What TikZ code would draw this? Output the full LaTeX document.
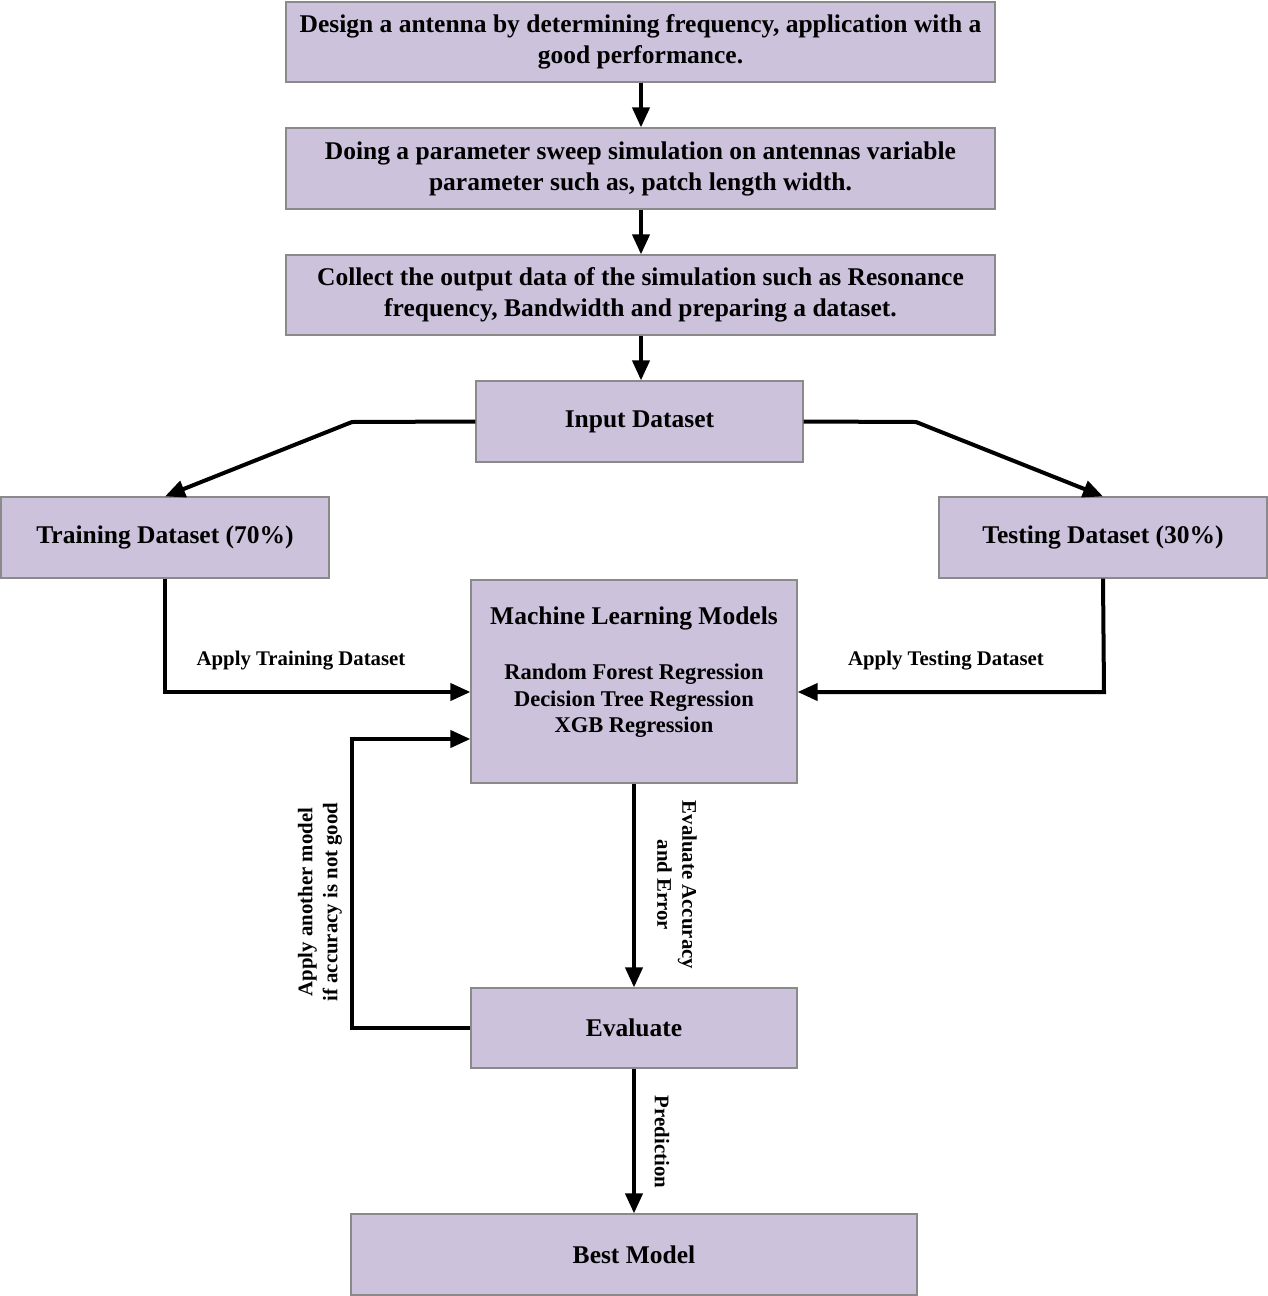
\documentclass[tikz,border=0pt]{standalone}
\usepackage{fontspec}
\setmainfont{Liberation Serif}
\usetikzlibrary{arrows.meta}
\definecolor{boxfill}{HTML}{CCC2DC}
\definecolor{boxdraw}{HTML}{8A8A8A}
\tikzset{
  box/.style={draw=boxdraw, line width=1.2pt, fill=boxfill, inner sep=0pt, font=\bfseries\fontsize{25.5}{31}\selectfont, align=center},
  conn/.style={line width=4pt, -{Triangle[length=20pt,width=17pt]}},
  lbl/.style={font=\bfseries\fontsize{20.8}{25}\selectfont, align=center, inner sep=0pt},
  mltitle/.style={font=\bfseries\fontsize{25.5}{31}\selectfont, inner sep=0pt},
  mlitem/.style={font=\bfseries\fontsize{22.5}{27}\selectfont, inner sep=0pt}
}
\begin{document}
\begin{tikzpicture}[x=1pt,y=-1pt]
\useasboundingbox (0,0) rectangle (1268,1296);
\node[box, minimum width=709pt, minimum height=80pt] (b1) at (640.5,42) {Design a antenna by determining frequency, application with a\\good performance.};
\node[box, minimum width=709pt, minimum height=81pt] (b2) at (640.5,168.5) {Doing a parameter sweep simulation on antennas variable\\parameter such as, patch length width.};
\node[box, minimum width=709pt, minimum height=80pt] (b3) at (640.5,295) {Collect the output data of the simulation such as Resonance\\frequency, Bandwidth and preparing a dataset.};
\node[box, minimum width=327pt, minimum height=81pt] (inp) at (639.5,421.5) {Input Dataset};
\node[box, minimum width=328pt, minimum height=81pt] (train) at (165,537.5) {Training Dataset (70\%)};
\node[box, minimum width=328pt, minimum height=81pt] (test) at (1103,537.5) {Testing Dataset (30\%)};
\node[box, minimum width=326pt, minimum height=203pt] (ml) at (634,681.5) {};
\node[mltitle] (mlt) at (634,618) {Machine Learning Models};
\node[mlitem] (m1) at (634,674) {Random Forest Regression};
\node[mlitem] (m2) at (634,701) {Decision Tree Regression};
\node[mlitem] (m3) at (634,727) {XGB Regression};
\node[box, minimum width=326pt, minimum height=80pt] (ev) at (634,1028) {Evaluate};
\node[box, minimum width=566pt, minimum height=81pt] (best) at (634,1254.5) {Best Model};

\draw[conn] (b1.south -| 641,0) -- (b2.north -| 641,0);
\draw[conn] (b2.south -| 641,0) -- (b3.north -| 641,0);
\draw[conn] (b3.south -| 641,0) -- (inp.north -| 641,0);
\coordinate (lk) at (352,422);
\coordinate (rk) at (916,422);
\draw[conn] (inp.west) -- (lk) -- (train.north);
\draw[conn] (inp.east) -- (rk) -- (test.north);
\coordinate (tr) at (165,692);
\coordinate (te) at (1104,692);
\draw[conn] (train.south) -- (tr) -- (ml.west |- tr);
\node[lbl] (l1) at (301,661) {Apply Training Dataset};
\draw[conn] (test.south) -- (te) -- (ml.east |- te);
\node[lbl] (l2) at (946,661) {Apply Testing Dataset};
\draw[conn] (ml.south) -- (ev.north);
\node[lbl, rotate=-90] (l3) at (677,885) {Evaluate Accuracy\\and Error};
\coordinate (ea) at (352,1028);
\coordinate (eb) at (352,739);
\draw[conn] (ev.west) -- (ea) -- (eb) -- (ml.west |- eb);
\node[lbl, rotate=90] (l4) at (320,902) {Apply another model\\if accuracy is not good};
\draw[conn] (ev.south) -- (best.north);
\node[lbl, rotate=-90] (l5) at (662,1142) {Prediction};
\end{tikzpicture}
\end{document}
